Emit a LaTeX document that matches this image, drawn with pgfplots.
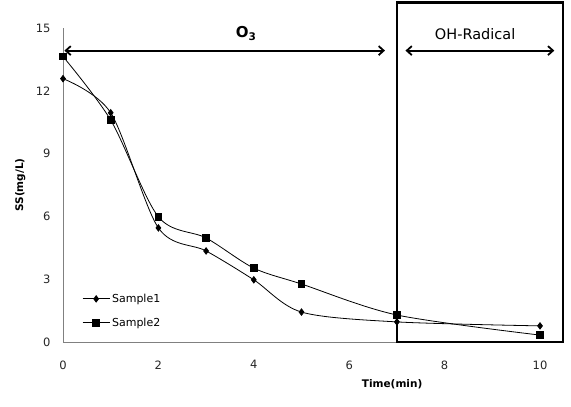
\documentclass[border=0pt]{standalone}
\usepackage{pgfplots}
\pgfplotsset{compat=1.18}
\usepackage{fontspec}
\setmainfont{DejaVu Sans}
\usetikzlibrary{calc,arrows.meta}
\begin{document}
\begin{tikzpicture}
\begin{axis}[
  name=ax,
  scale only axis,
  width=477bp, height=314bp,
  xmin=0, xmax=10, ymin=0, ymax=15,
  xtick={0,2,4,6,8,10}, ytick={0,3,6,9,12,15},
  axis x line=bottom, axis y line=left,
  axis line style={-, draw=gray, line width=0.8bp},
  major tick length=0pt,
  tick style={draw=none},
  /pgf/number format/assume math mode=true,
  ticklabel style={font=\fontsize{11.5bp}{13bp}\selectfont, text=black!85},
  xticklabel style={yshift=-15bp},
  yticklabel style={xshift=-9bp},
  xlabel={\textbf{Time(min)}},
  ylabel={\textbf{SS(mg/L)}},
  label style={font=\fontsize{10.5bp}{12bp}\selectfont},
  xlabel style={at={(axis description cs:0.690,0)}, anchor=north, yshift=-34bp},
  ylabel style={at={(axis description cs:0,0.5)}, anchor=south, yshift=34bp},
  clip=false,
  legend style={at={(axis cs:0.40,2.40)}, anchor=north west, draw=none, fill=none,
    font=\fontsize{11bp}{13bp}\selectfont, row sep=10bp, inner sep=0pt},
  legend cell align=left,
  legend image code/.code={\draw[mark repeat=2,mark phase=2,#1] plot coordinates {(0bp,0bp) (13.5bp,0bp) (27bp,0bp)};},
]
\addplot[black, line width=0.8bp, smooth, mark=diamond*, mark size=3.2bp, mark options={solid,fill=black}]
  coordinates {(0,12.58) (1,10.95) (2,5.45) (3,4.35) (4,2.97) (5,1.43) (7,0.96) (10,0.77)};
\addlegendentry{Sample1}
\addplot[black, line width=0.8bp, smooth, mark=square*, mark size=3.3bp, mark options={solid,fill=black}]
  coordinates {(0,13.64) (1,10.6) (2,5.98) (3,4.97) (4,3.53) (5,2.77) (7,1.29) (10,0.33)};
\addlegendentry{Sample2}
\draw[line width=2.8bp] (axis cs:7,0) rectangle (axis cs:10.48,16.22);
\draw[line width=1.8bp, {Straight Barb[length=5bp,width=9bp]}-{Straight Barb[length=5bp,width=9bp]}] (axis cs:0.03,13.92) -- (axis cs:6.75,13.92);
\draw[line width=1.8bp, {Straight Barb[length=5bp,width=9bp]}-{Straight Barb[length=5bp,width=9bp]}] (axis cs:7.18,13.92) -- (axis cs:10.3,13.92);
\node[font=\fontsize{15bp}{17bp}\selectfont\bfseries] at (axis cs:3.84,14.72) {O\textsubscript{3}};
\node[font=\fontsize{14.5bp}{17bp}\selectfont] at (axis cs:8.64,14.72) {OH-Radical};
\end{axis}
\pgfresetboundingbox
\path[use as bounding box] ($(ax.south west)+(-63bp,-65bp)$) rectangle ($(ax.north east)+(31bp,28bp)$);
\end{tikzpicture}
\end{document}
